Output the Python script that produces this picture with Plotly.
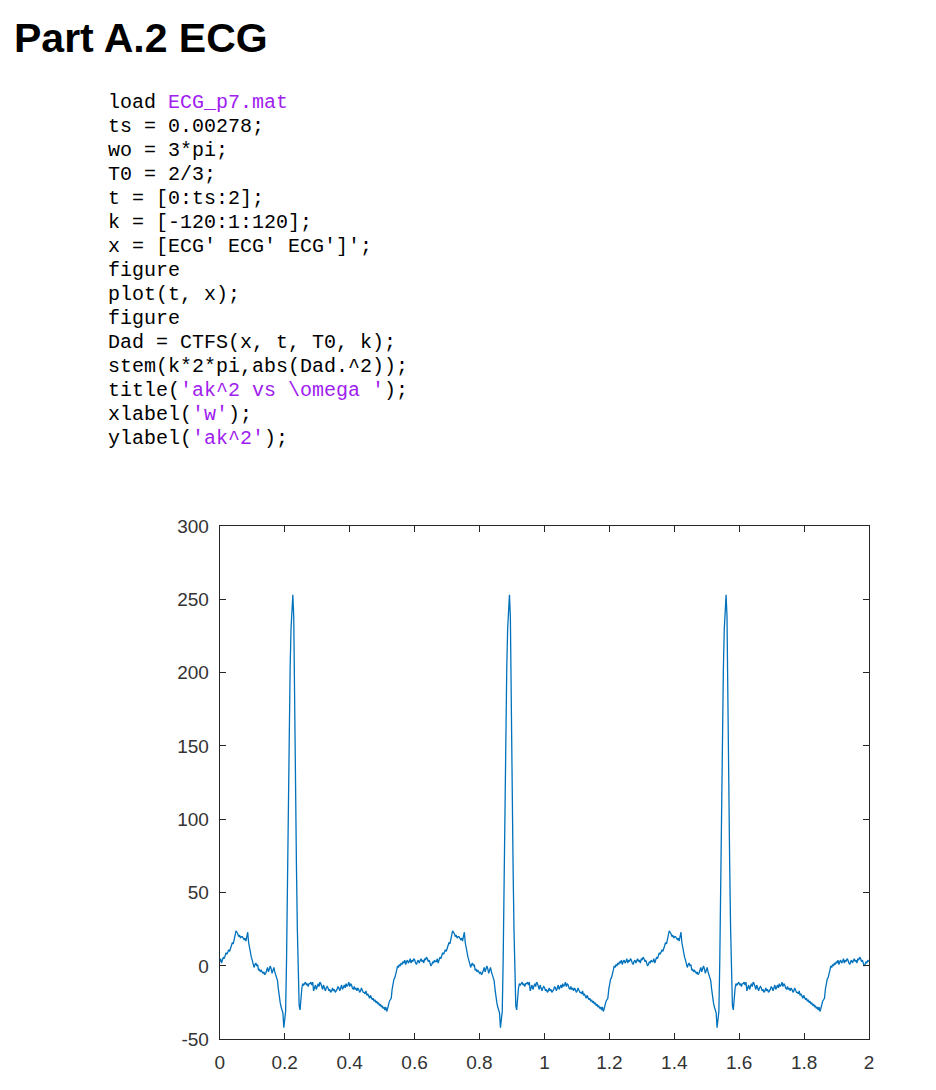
import numpy as np
import plotly.graph_objects as go

# ---- data (one ECG period; repeated 3x as in x = [ECG' ECG' ECG']') ----
ts = 0.00278
ECG = [
    3, 5, 2, 4, 6, 5, 7, 9, 8, 10,
    11, 10, 12, 14, 16, 15, 18, 20, 24, 23,
    22, 20, 21, 19, 20, 20, 19, 18, 19, 17,
    20, 23, 16, 12, 9, 6, 4, 2, -1, 1,
    2, 0, 1, -3, -2, -4, -3, -4, -5, -4,
    -6, -5, -3, -1, -4, -2, 0, -2, -5, -3,
    -1, -4, -6, -8, -10, -16, -22, -25, -28, -30,
    -32, -42, -38, -31, 3, 50, 131, 170, 203, 230,
    246, 253, 238, 170, 110, 68, 25, -7, -27, -30,
    -18, -15, -12, -13, -12, -11, -13, -12, -14, -12,
    -12, -11, -13, -11, -17, -15, -13, -16, -14, -12,
    -14, -11, -12, -15, -16, -13, -15, -17, -15, -14,
    -15, -17, -16, -18, -17, -15, -17, -16, -18, -17,
    -16, -14, -15, -17, -15, -13, -16, -14, -13, -15,
    -12, -14, -13, -11, -14, -12, -13, -15, -16, -14,
    -16, -15, -17, -15, -16, -18, -17, -15, -17, -18,
    -18, -19, -17, -20, -19, -21, -22, -20, -22, -23,
    -22, -24, -23, -25, -24, -26, -25, -27, -26, -28,
    -27, -29, -28, -30, -28, -31, -29, -26, -24, -23,
    -22, -16, -12, -9, -8, -6, -3, 0, -1, 1,
    0, 2, 1, 3, 2, 4, 1, 3, 4, 2,
    3, 5, 2, 4, 3, 5, 4, 2, 1, 3,
    4, 2, 4, 5, 3, 4, 2, 5, 4, 6,
    5, 3, 4, 2, 0, 1, 3, 2, 4, 3,
]
x_vals = ECG + ECG + ECG
t_vals = [i * ts for i in range(len(x_vals))]

x_ticks = [0, 0.2, 0.4, 0.6, 0.8, 1, 1.2, 1.4, 1.6, 1.8, 2]
x_tick_labels = ["0", "0.2", "0.4", "0.6", "0.8", "1", "1.2", "1.4", "1.6", "1.8", "2"]
y_ticks = [-50, 0, 50, 100, 150, 200, 250, 300]
y_tick_labels = ["-50", "0", "50", "100", "150", "200", "250", "300"]

PURPLE = "#A020F0"
def s(txt):
    return f'<span style="color:{PURPLE}">{txt}</span>'

code_lines = [
    "load " + s("ECG_p7.mat"),
    "ts = 0.00278;",
    "wo = 3*pi;",
    "T0 = 2/3;",
    "t = [0:ts:2];",
    "k = [-120:1:120];",
    "x = [ECG' ECG' ECG']';",
    "figure",
    "plot(t, x);",
    "figure",
    "Dad = CTFS(x, t, T0, k);",
    "stem(k*2*pi,abs(Dad.^2));",
    "title(" + s("'ak^2 vs \\omega '") + ");",
    "xlabel(" + s("'w'") + ");",
    "ylabel(" + s("'ak^2'") + ");",
]

W, H = 920, 1074

fig = go.Figure()
fig.add_trace(go.Scatter(x=t_vals, y=x_vals, mode="lines",
                         line=dict(color="#0072BD", width=1.3),
                         hoverinfo="skip", showlegend=False))

def px(xp):
    return xp / W
def py(yp):
    return 1 - yp / H

ann = []
ann.append(dict(text="<b>Part A.2 ECG</b>", x=px(0), y=py(20), xref="paper", yref="paper",
                xanchor="left", yanchor="middle", showarrow=False, borderpad=0,
                font=dict(family="Liberation Sans, Arial, sans-serif", size=41, color="#000000")))
for i, line in enumerate(code_lines):
    ann.append(dict(text=line, x=px(95), y=py(86 + 24.47 * i), xref="paper", yref="paper",
                    xanchor="left", yanchor="middle", showarrow=False, borderpad=0,
                    font=dict(family="Liberation Mono, Courier New, monospace", size=20, color="#000000")))

axis_common = dict(showline=True, linecolor="#262626", linewidth=1, mirror="ticks",
                   ticks="inside", ticklen=6, tickcolor="#262626", tickwidth=1,
                   showgrid=False, zeroline=False,
                   tickfont=dict(family="Liberation Sans, Arial, sans-serif", size=19, color="#333333"))

fig.update_layout(
    width=W, height=H,
    margin=dict(l=0, r=0, t=0, b=0),
    paper_bgcolor="white", plot_bgcolor="white",
    annotations=ann,
    xaxis=dict(domain=[209 / W, 865.5 / W], range=[0, 2], tickvals=x_ticks, ticktext=x_tick_labels,
               ticklabelstandoff=6, **axis_common),
    yaxis=dict(domain=[(H - 1041.7) / H, (H - 518) / H], range=[-50, 300], tickvals=y_ticks,
               ticktext=y_tick_labels, ticklabelstandoff=6, **axis_common),
)

fig.write_html("out.html")
